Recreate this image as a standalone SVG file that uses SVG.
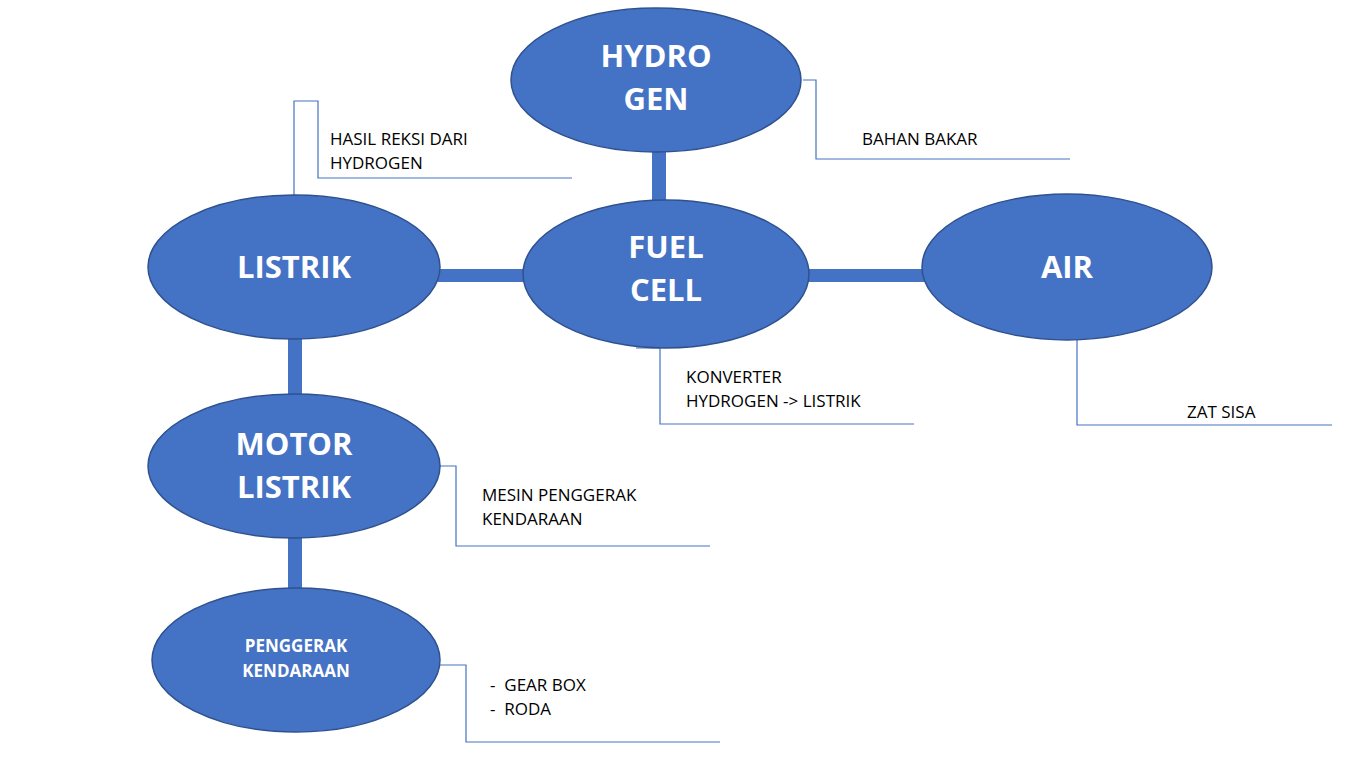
<svg xmlns="http://www.w3.org/2000/svg" width="1366" height="768" viewBox="0 0 1366 768">
<style>
.n{fill:#4472c4;stroke:#2f528f;stroke-width:1.5}
.t{font-family:"Open Sans",sans-serif;font-weight:bold;fill:#fff;font-size:31px;text-anchor:middle}
.s{font-size:17px}
.c{font-family:"Open Sans",sans-serif;font-size:17px;fill:#000}
.l{fill:none;stroke:#4472c4;stroke-width:1.2}
.b{fill:#4472c4}
</style>
<rect width="1366" height="768" fill="#fff"/>
<g id="connectors">
<rect class="b" x="652" y="150" width="14" height="52"/>
<rect class="b" x="438" y="269" width="87" height="13"/>
<rect class="b" x="807" y="269" width="117" height="13"/>
<rect class="b" x="288" y="338" width="14" height="58"/>
<rect class="b" x="288" y="536" width="14" height="54"/>
<path class="l" d="M294 195V101H318V178H572"/>
<path class="l" d="M803 80H816V159H1070"/>
<path class="l" d="M636 348H660V424H914"/>
<path class="l" d="M1077 340V425H1332"/>
<path class="l" d="M440 466H456V546H710"/>
<path class="l" d="M440 665H466V742H720"/>
</g>
<g id="hydrogen"><ellipse class="n" cx="656" cy="80" rx="145" ry="72"/><text class="t" x="656" y="67">HYDRO</text><text class="t" x="656" y="110">GEN</text></g>
<g id="fuelcell"><ellipse class="n" cx="666" cy="274" rx="143" ry="74"/><text class="t" x="666" y="258">FUEL</text><text class="t" x="666" y="301">CELL</text></g>
<g id="listrik"><ellipse class="n" cx="294" cy="267" rx="146" ry="72"/><text class="t" x="294" y="278">LISTRIK</text></g>
<g id="air"><ellipse class="n" cx="1067" cy="267" rx="145" ry="73"/><text class="t" x="1067" y="278">AIR</text></g>
<g id="motor"><ellipse class="n" cx="294" cy="466" rx="146" ry="72"/><text class="t" x="294" y="455">MOTOR</text><text class="t" x="294" y="498">LISTRIK</text></g>
<g id="penggerak"><ellipse class="n" cx="296" cy="660" rx="144" ry="72"/><text class="t s" x="296" y="652">PENGGERAK</text><text class="t s" x="296" y="677">KENDARAAN</text></g>
<g id="labels">
<text class="c" x="330" y="145">HASIL REKSI DARI</text><text class="c" x="330" y="169">HYDROGEN</text>
<text class="c" x="862" y="145">BAHAN BAKAR</text>
<text class="c" x="686" y="383">KONVERTER</text><text class="c" x="686" y="407">HYDROGEN -&gt; LISTRIK</text>
<text class="c" x="1187" y="418">ZAT SISA</text>
<text class="c" x="482" y="501">MESIN PENGGERAK</text><text class="c" x="482" y="525">KENDARAAN</text>
<text class="c" x="490" y="691" xml:space="preserve">-  GEAR BOX</text><text class="c" x="490" y="715" xml:space="preserve">-  RODA</text>
</g>
</svg>
